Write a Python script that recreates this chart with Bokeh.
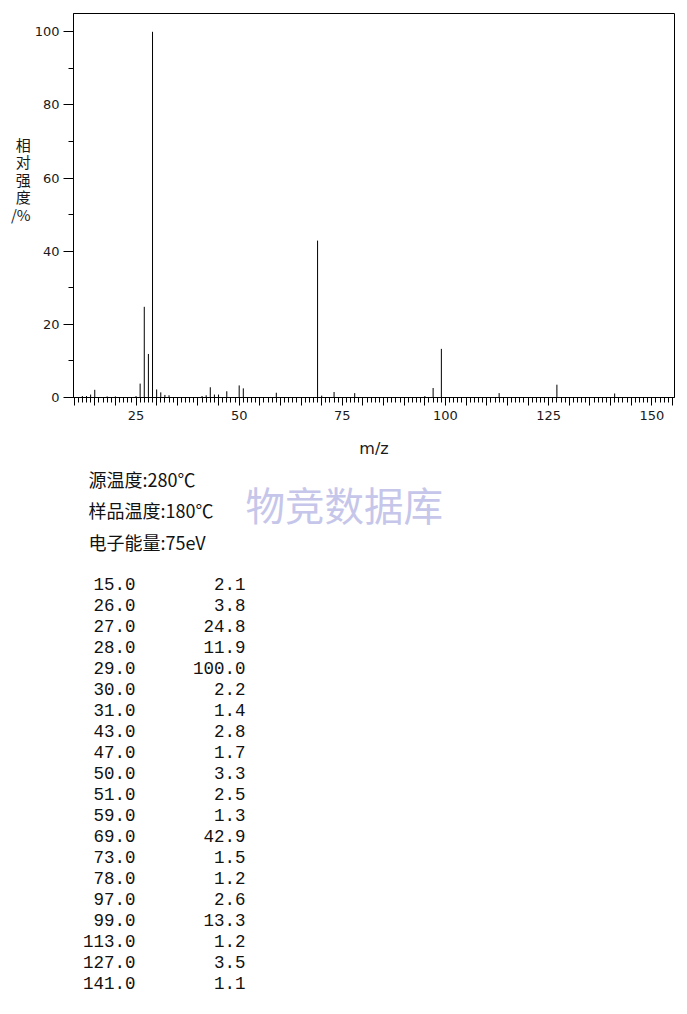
from bokeh.plotting import figure
from bokeh.models import Range1d, FixedTicker, ColumnDataSource
from bokeh.layouts import column
from bokeh.core.properties import value
from bokeh.embed import file_html
from bokeh.resources import INLINE

# ---------------- data ----------------
table_mz = [15.0, 26.0, 27.0, 28.0, 29.0, 30.0, 31.0, 43.0, 47.0, 50.0,
            51.0, 59.0, 69.0, 73.0, 78.0, 97.0, 99.0, 113.0, 127.0, 141.0]
table_int = [2.1, 3.8, 24.8, 11.9, 100.0, 2.2, 1.4, 2.8, 1.7, 3.3,
             2.5, 1.3, 42.9, 1.5, 1.2, 2.6, 13.3, 1.2, 3.5, 1.1]
# small unlisted peaks
minor_mz = [12, 13, 14, 18, 20, 25, 32, 33, 41, 42, 44, 45, 70, 95]
minor_int = [0.4, 0.4, 0.8, 0.3, 0.3, 0.4, 0.7, 0.6, 0.4, 0.6, 0.8, 0.8, 0.5, 0.4]

x_major_ticks = list(range(10, 156, 5))
x_minor_ticks = list(range(10, 156))
x_labelled = [25, 50, 75, 100, 125, 150]
y_major_ticks = [0, 20, 40, 60, 80, 100]
y_minor_ticks = [10, 30, 50, 70, 90]

x_title = "m/z"
y_title = "相\n对\n强\n度\n/%"
conditions = ["源温度:280℃", "样品温度:180℃", "电子能量:75eV"]
watermark = "物竞数据库"

# ---------------- layout constants (page pixels) ----------------
W = 679
FL, FR = 73, 674          # frame left / right
FT, FB = 13, 397          # frame top / bottom
BL, BR = FL, W - FR
P_H = 460

# ---------------- spectrum ----------------
p = figure(width=W, height=P_H, output_backend="svg", toolbar_location=None,
           x_range=Range1d(9.85, 155.5), y_range=Range1d(0, 105),
           min_border_left=BL, min_border_right=BR, min_border_top=FT,
           min_border_bottom=P_H - FB)
p.xgrid.visible = False
p.ygrid.visible = False
p.outline_line_color = "black"
p.outline_line_width = 1
p.background_fill_color = "white"
p.border_fill_color = "white"

all_mz = table_mz + minor_mz
all_int = table_int + minor_int
src = ColumnDataSource(dict(x=all_mz, y=all_int, y0=[0] * len(all_mz)))
p.segment(x0="x", y0="y0", x1="x", y1="y", source=src, line_color="black", line_width=1)

xa = p.xaxis[0]
xa.ticker = FixedTicker(ticks=x_major_ticks, minor_ticks=x_minor_ticks)
xa.major_label_overrides = {t: (str(t) if t in x_labelled else "") for t in x_major_ticks}
xa.major_tick_in = 0
xa.major_tick_out = 8
xa.minor_tick_in = 0
xa.minor_tick_out = 5
xa.axis_line_color = "black"
xa.major_tick_line_color = "black"
xa.minor_tick_line_color = "black"
xa.major_label_text_font = "DejaVu Sans"
xa.major_label_text_font_size = "13px"
xa.major_label_text_color = "#1a1a1a"
xa.major_label_standoff = 5
xa.axis_label = x_title
xa.axis_label_text_font = "DejaVu Sans"
xa.axis_label_text_font_size = "16px"
xa.axis_label_text_font_style = "normal"
xa.axis_label_text_color = "#1a1a1a"
xa.axis_label_standoff = 16

ya = p.yaxis[0]
ya.ticker = FixedTicker(ticks=y_major_ticks, minor_ticks=y_minor_ticks)
ya.major_tick_in = 0
ya.major_tick_out = 10
ya.minor_tick_in = 0
ya.minor_tick_out = 5
ya.axis_line_color = "black"
ya.major_tick_line_color = "black"
ya.minor_tick_line_color = "black"
ya.major_label_text_font = "DejaVu Sans"
ya.major_label_text_font_size = "13px"
ya.major_label_text_color = "#1a1a1a"
ya.major_label_standoff = 4
ya.axis_label = y_title + "\n\n\n"
ya.axis_label_orientation = "horizontal"
ya.axis_label_text_font = "Noto Sans CJK SC"
ya.axis_label_text_font_size = "15px"
ya.axis_label_text_font_style = "normal"
ya.axis_label_text_color = "#1a1a1a"
ya.axis_label_text_line_height = 0.83
ya.axis_label_standoff = 1

# ---------------- text block (data coords = page pixels) ----------------
T0, T1 = P_H, 1006
q = figure(width=W, height=T1 - T0, output_backend="svg", toolbar_location=None,
           x_range=Range1d(FL, FR), y_range=Range1d(T1, T0),
           min_border_left=BL, min_border_right=BR, min_border_top=0,
           min_border_bottom=0, outline_line_color=None)
q.axis.visible = False
q.xgrid.visible = False
q.ygrid.visible = False
q.background_fill_color = "white"
q.border_fill_color = "white"

cond_x0, cond_y0, cond_dy = 88, 478, 31.5
q.text(x=[cond_x0] * len(conditions), y=[cond_y0 + i * cond_dy for i in range(len(conditions))],
       text=conditions, text_font=value("Noto Sans CJK SC"), text_font_size="18px",
       text_color="#111111", text_align="left", text_baseline="middle")

q.text(x=[245], y=[503], text=[watermark], text_font=value("Noto Sans CJK SC"),
       text_font_size="39.5px", text_color="#c6c6ea", text_align="left", text_baseline="middle")

row_y0, row_dy = 583, 21.0
rows_y = [row_y0 + i * row_dy for i in range(len(table_mz))]
q.text(x=[135] * len(table_mz), y=rows_y, text=["%.1f" % v for v in table_mz],
       text_font=value("Liberation Mono"), text_font_size="17.5px", text_color="#111111",
       text_align="right", text_baseline="middle")
q.text(x=[245] * len(table_int), y=rows_y, text=["%.1f" % v for v in table_int],
       text_font=value("Liberation Mono"), text_font_size="17.5px", text_color="#111111",
       text_align="right", text_baseline="middle")

layout = column(p, q, spacing=0)
open("out.html", "w").write(file_html(layout, INLINE))
